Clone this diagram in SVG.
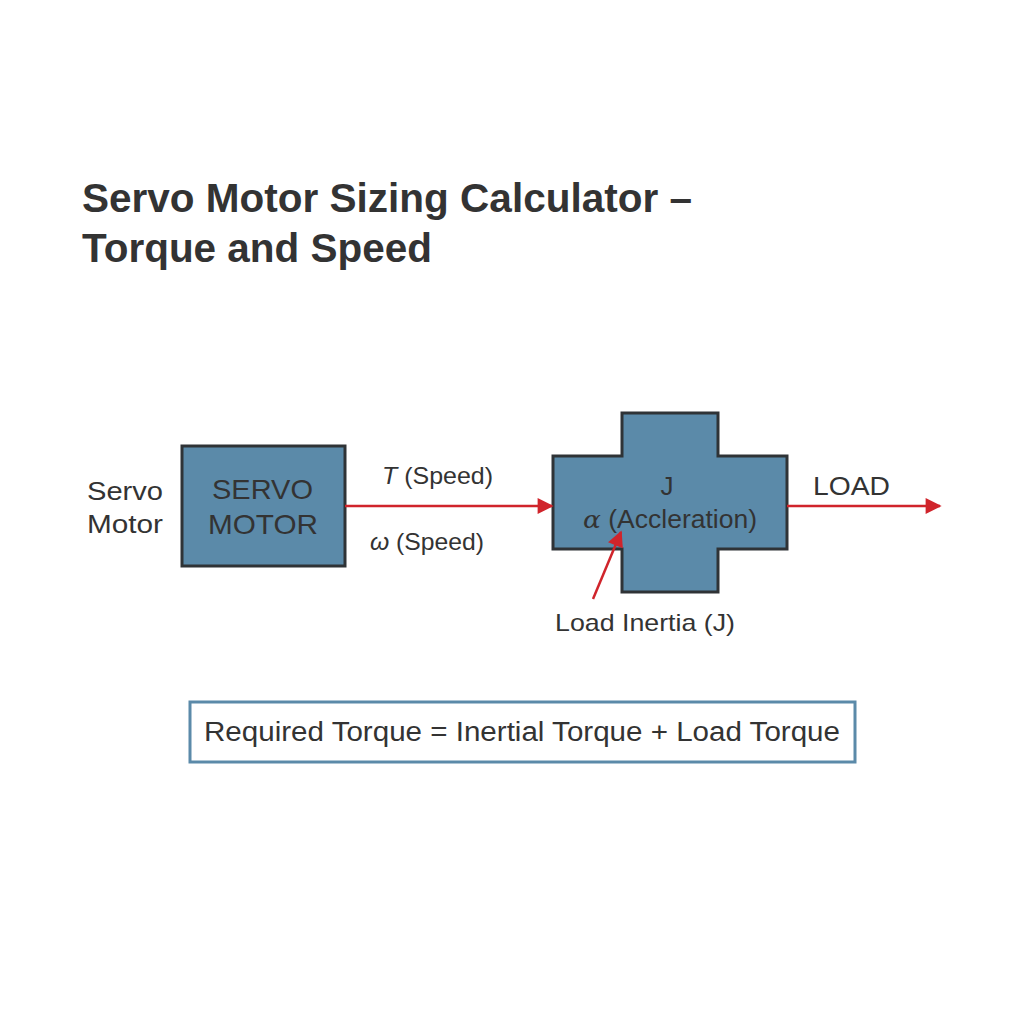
<svg xmlns="http://www.w3.org/2000/svg" width="1024" height="1024" viewBox="0 0 1024 1024">
<defs>
<style>
text{font-family:"Liberation Sans",Arial,sans-serif;fill:#333333}
.title{font-size:40px;font-weight:bold}
.lbl{font-size:26px}
.box{fill:#5b8aa9;stroke:#2f3336;stroke-width:3}
.conn{stroke:#d0242b;stroke-width:2.5;fill:none}
</style>
<marker id="ah2" viewBox="0 0 10 10" refX="9" refY="5" markerWidth="18" markerHeight="16" markerUnits="userSpaceOnUse" orient="auto">
<path d="M0,0 L10,5 L0,10 z" fill="#d0242b"/>
</marker>
</defs>
<rect width="1024" height="1024" fill="#ffffff"/>
<g id="title">
<text class="title" x="82" y="212" textLength="610" lengthAdjust="spacingAndGlyphs">Servo Motor Sizing Calculator –</text>
<text class="title" x="82" y="262" textLength="350" lengthAdjust="spacingAndGlyphs">Torque and Speed</text>
</g>
<g id="servo-label">
<text class="lbl" x="87" y="500" textLength="76" lengthAdjust="spacingAndGlyphs">Servo</text>
<text class="lbl" x="87" y="533" textLength="76" lengthAdjust="spacingAndGlyphs">Motor</text>
</g>
<g id="servo-motor">
<rect class="box" x="182" y="446" width="163" height="120"/>
<text x="212" y="499" font-size="28" textLength="101" lengthAdjust="spacingAndGlyphs">SERVO</text>
<text x="208" y="534" font-size="28" textLength="110" lengthAdjust="spacingAndGlyphs">MOTOR</text>
</g>
<g id="load-inertia">
<path class="box" d="M622,413 H718 V456 H787 V549 H718 V592 H622 V549 H553 V456 H622 Z"/>
<text x="667" y="495" text-anchor="middle" font-size="26">J</text>
<text x="583" y="528" font-size="25" textLength="174" lengthAdjust="spacingAndGlyphs"><tspan font-style="italic" font-family="DejaVu Serif, serif">α</tspan> (Accleration)</text>
</g>
<g id="connectors">
<line class="conn" x1="345" y1="506" x2="552" y2="506" marker-end="url(#ah2)"/>
<line class="conn" x1="787" y1="506" x2="940" y2="506" marker-end="url(#ah2)"/>
<line class="conn" x1="593" y1="599" x2="621" y2="532" marker-end="url(#ah2)"/>
</g>
<g id="labels">
<text x="382" y="484" font-size="24" textLength="111" lengthAdjust="spacingAndGlyphs"><tspan font-style="italic">T</tspan> (Speed)</text>
<text x="370" y="550" font-size="24" textLength="114" lengthAdjust="spacingAndGlyphs"><tspan font-style="italic">ω</tspan> (Speed)</text>
<text class="lbl" x="813" y="495" textLength="77" lengthAdjust="spacingAndGlyphs">LOAD</text>
<text x="555" y="631" font-size="24" textLength="180" lengthAdjust="spacingAndGlyphs">Load Inertia (J)</text>
</g>
<g id="formula">
<rect x="190" y="702" width="665" height="60" fill="#ffffff" stroke="#5b8aa9" stroke-width="3"/>
<text x="204" y="741" font-size="27" textLength="636" lengthAdjust="spacingAndGlyphs">Required Torque = Inertial Torque + Load Torque</text>
</g>
</svg>
